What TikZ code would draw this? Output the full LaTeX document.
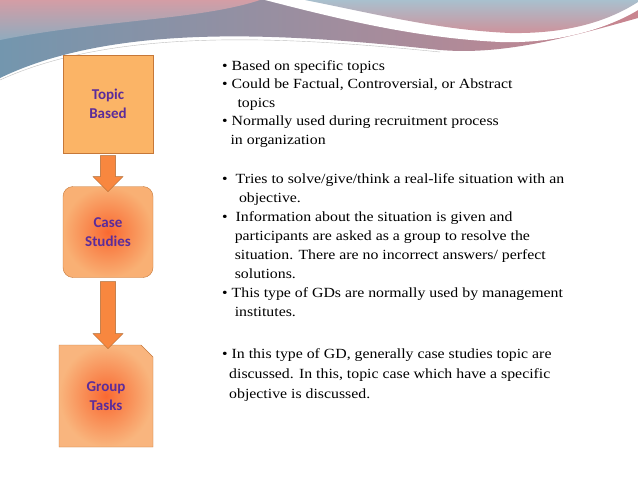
\documentclass[tikz,border=0pt]{standalone}
\usepackage{fontspec}
\setmainfont[FakeStretch=1.13]{Liberation Serif}
\newfontfamily\boxfont{Carlito}
\usetikzlibrary{shapes.geometric,shapes.arrows}
\definecolor{orng}{HTML}{F79646}
\definecolor{lorng}{HTML}{FBB466}
\definecolor{txtc}{HTML}{5B2C9A}
\definecolor{wblue}{HTML}{7396AE}
\definecolor{wpink}{HTML}{C9858F}
\definecolor{wlblue}{HTML}{A9C0CE}
\tikzset{
 lbl/.style={font=\boxfont\bfseries\fontsize{15}{19}\selectfont, text=txtc, align=center},
 para/.style={anchor=north west, align=left, inner sep=0pt},
 barrow/.style={single arrow, draw=orng!70!black, fill=orng!90!red, shape border rotate=270, minimum width=30pt, single arrow head extend=5pt, single arrow tip angle=90, inner sep=5pt}
}
\begin{document}
\begin{tikzpicture}[x=1pt,y=-1pt]
\useasboundingbox (0,0) rectangle (638,479);
\fill[white] (0,0) rectangle (638,479);
% header wave
\shade[left color=wblue, right color=wpink]
 (0,0) -- (638,0) -- (638,18) .. controls (560,40) and (500,55) .. (440,50)
 .. controls (300,35) and (120,20) .. (0,78) -- cycle;
\shade[top color=wpink!80, bottom color=wblue!80] (0,0) -- (260,0) .. controls (200,20) and (100,20) .. (0,40) -- cycle;
\fill[white] (265,0) .. controls (350,22) and (420,38) .. (500,42)
 .. controls (560,44) and (610,27) .. (638,10) -- (638,0) -- cycle;
\shade[top color=wlblue, bottom color=wpink!90] (305,0) .. controls (380,15) and (440,30) .. (510,33)
 .. controls (570,34) and (610,20) .. (638,2) -- (638,0) -- cycle;
\draw[gray!50] (0,80) .. controls (120,25) and (300,38) .. (440,52);
% boxes
\node[draw=orng!80!black, fill=lorng, minimum width=90pt, minimum height=98pt, lbl] (tb) at (108,104) {Topic\\Based};
\node[draw=orng!80!black, rounded corners=10pt, inner color=orng!70!red, outer color=orng!75, minimum width=90pt, minimum height=91pt, lbl] (cs) at (108,232) {Case\\Studies};
\node[inner sep=0pt, minimum size=0pt] (gt) at (106,396) {};
\shade[draw=orng!80!black, inner color=orng!70!red, outer color=orng!70] (59,345) -- (141,345) -- (153,357) -- (153,447) -- (59,447) -- cycle;
\node[lbl] at (gt) {Group\\Tasks};
% arrows
\path (tb.south) -- coordinate[midway] (a1) (cs.north);
\node[barrow, minimum height=36pt] at (a1) {};
\path (cs.south) -- coordinate[midway] (a2) (108,345);
\node[barrow, minimum height=67pt] at (a2) {};
% texts
\node[para, font=\fontsize{14}{18.5}\selectfont] (t1) at (222,60) {• Based on specific topics\\
• Could be Factual, Controversial, or Abstract\\
\hspace*{1.1em}topics\\
• Normally used during recruitment process\\
\hspace*{0.6em}in organization};
\node[para, font=\fontsize{14}{19.1}\selectfont] (t2) at (222,173) {•\ \ Tries to solve/give/think a real-life situation with an\\
\hspace*{1.2em}objective.\\
•\ \ Information about the situation is given and\\
\hspace*{0.9em}participants are asked as a group to resolve the\\
\hspace*{0.9em}situation. There are no incorrect answers/ perfect\\
\hspace*{0.9em}solutions.\\
• This type of GDs are normally used by management\\
\hspace*{0.9em}institutes.};
\node[para, font=\fontsize{14}{20}\selectfont] (t3) at (222,348) {• In this type of GD, generally case studies topic are\\
\hspace*{0.5em}discussed. In this, topic case which have a specific\\
\hspace*{0.5em}objective is discussed.};
\end{tikzpicture}
\end{document}
